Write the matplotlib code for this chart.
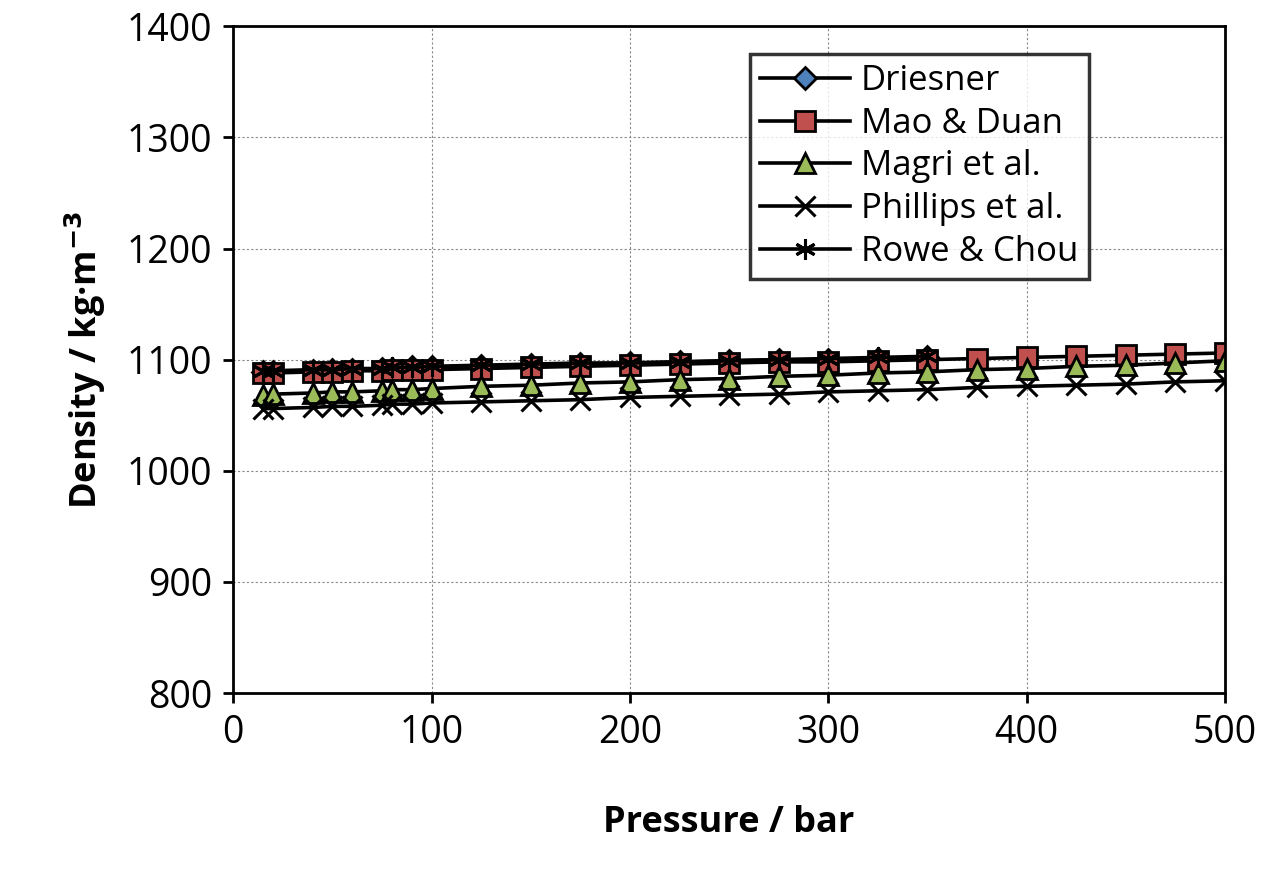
import matplotlib
matplotlib.use("Agg")
import matplotlib.pyplot as plt

plt.rcParams['font.family'] = ['Open Sans', 'DejaVu Sans']

p_full = [15, 20, 40, 50, 60, 75, 80, 90, 100, 125, 150, 175, 200, 225, 250, 275, 300, 325, 350, 375, 400, 425, 450, 475, 500]
p_short = [15, 20, 40, 50, 60, 75, 80, 90, 100, 125, 150, 175, 200, 225, 250, 275, 300, 325, 350]

driesner = [1089, 1089, 1090, 1091, 1091, 1092, 1092, 1093, 1093, 1094, 1095, 1096, 1097, 1098, 1099, 1100, 1100, 1101, 1102]
mao = [1088, 1088, 1089, 1089, 1090, 1090, 1091, 1091, 1091, 1092, 1093, 1094, 1095, 1096, 1097, 1098, 1098, 1099, 1100, 1101, 1102, 1103, 1104, 1105, 1106]
magri = [1068, 1069, 1070, 1071, 1071, 1072, 1073, 1073, 1074, 1076, 1077, 1079, 1080, 1082, 1083, 1085, 1086, 1088, 1089, 1091, 1092, 1094, 1095, 1097, 1099]
phillips = [1056, 1056, 1057, 1058, 1058, 1059, 1060, 1060, 1061, 1062, 1063, 1064, 1066, 1067, 1068, 1069, 1071, 1072, 1073, 1075, 1076, 1077, 1078, 1080, 1081]
rowe = [1090, 1090, 1091, 1091, 1092, 1092, 1093, 1093, 1094, 1095, 1096, 1097, 1097, 1098, 1099, 1100, 1101, 1102, 1103]

fig, ax = plt.subplots(figsize=(12.68, 8.74), dpi=100)
fig.subplots_adjust(left=0.184, right=0.966, top=0.97, bottom=0.207)

lw = 2.6
ax.plot(p_short, driesner, color='black', lw=lw, marker='D', ms=11, mfc='#4F81BD', mec='black', mew=2, label='Driesner')
ax.plot(p_full, mao, color='black', lw=lw, marker='s', ms=15, mfc='#C0504D', mec='black', mew=2, label='Mao & Duan')
ax.plot(p_full, magri, color='black', lw=lw, marker='^', ms=15, mfc='#9BBB59', mec='black', mew=2, label='Magri et al.')
ax.plot(p_full, phillips, color='black', lw=lw, marker='x', ms=15, mec='black', mew=2.2, label='Phillips et al.')
ax.plot(p_short, rowe, color='black', lw=lw, marker=(6, 2, 0), ms=15, mec='black', mew=2.2, label='Rowe & Chou')

ax.set_xlim(0, 500)
ax.set_ylim(800, 1400)
ax.set_xticks(range(0, 501, 100))
ax.set_yticks(range(800, 1401, 100))
ax.grid(True, color='#888888', ls=(0, (2, 2)), lw=0.8)
for s in ax.spines.values():
    s.set_linewidth(2)
ax.tick_params(labelsize=27, direction='out', length=7, width=2, pad=8)
ax.set_xlabel('Pressure / bar', fontsize=26, fontweight='bold', labelpad=38)
ax.set_ylabel('Density / kg·m$^{\\mathbf{-3}}$', fontsize=26, fontweight='bold', labelpad=14)

leg = ax.legend(loc='upper right', bbox_to_anchor=(0.88, 0.985), fontsize=25, frameon=True, fancybox=False,
                edgecolor='black', handlelength=2.6, handletextpad=0.3, borderpad=0.3, labelspacing=0.25)
leg.get_frame().set_linewidth(2.5)

fig.savefig('out.png')
